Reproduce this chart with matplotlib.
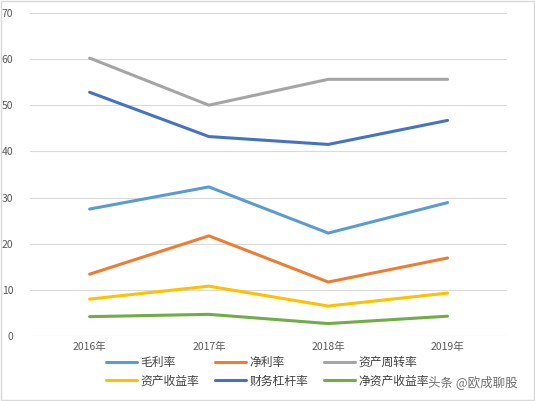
import matplotlib.pyplot as plt
from matplotlib.patches import Rectangle

plt.rcParams['font.family'] = ['Noto Sans CJK SC', 'DejaVu Sans']

# Data
years = ['2016年', '2017年', '2018年', '2019年']
gross_margin = [27.5, 32.3, 22.3, 28.9]       # 毛利率
net_margin = [13.4, 21.7, 11.7, 16.9]         # 净利率
asset_turnover = [60.2, 50.0, 55.6, 55.6]     # 资产周转率
roa = [8.0, 10.8, 6.5, 9.3]                   # 资产收益率
leverage = [52.8, 43.2, 41.5, 46.7]           # 财务杠杆率
roe = [4.2, 4.7, 2.7, 4.3]                    # 净资产收益率

series = [
    ('毛利率', gross_margin, '#5B9BD5'),
    ('净利率', net_margin, '#ED7D31'),
    ('资产周转率', asset_turnover, '#A5A5A5'),
    ('资产收益率', roa, '#FFC000'),
    ('财务杠杆率', leverage, '#4472C4'),
    ('净资产收益率', roe, '#70AD47'),
]

fig = plt.figure(figsize=(5.35, 4.01), dpi=100)
ax = fig.add_axes([0.056, 0.162, 0.892, 0.806])

x = range(len(years))
lines = {}
for name, vals, color in series:
    ln, = ax.plot(x, vals, color=color, lw=2.2, label=name, solid_capstyle='round')
    lines[name] = ln

ax.set_xlim(-0.5, 3.5)
ax.set_ylim(0, 70)
ax.set_yticks(range(0, 71, 10))
ax.set_xticks(list(x))
ax.set_xticklabels(years)
ax.grid(axis='y', color='#D9D9D9', lw=0.8)
ax.set_axisbelow(True)
for s in ax.spines.values():
    s.set_visible(False)
ax.tick_params(length=0, labelsize=7.5, colors='#595959', pad=4)
ax.tick_params(axis='y', pad=12)

# legend filled row by row
order = ['毛利率', '资产收益率', '净利率', '财务杠杆率', '资产周转率', '净资产收益率']
leg = fig.legend([lines[n] for n in order], order, ncol=3, loc='center left',
                 bbox_to_anchor=(0.199, 0.073), frameon=False, fontsize=8.5,
                 handlelength=2.6, handletextpad=0.3, columnspacing=1.35,
                 labelspacing=0.45, borderpad=0, borderaxespad=0)
for t in leg.get_texts():
    t.set_color('#404040')

# watermark
fig.text(0.968, 0.047, '头条 @欧成聊股', ha='right', va='center', fontsize=9,
         color='#555555', alpha=0.85)

fig.patches.append(Rectangle((0.002, 0.002), 0.996, 0.996, transform=fig.transFigure,
                             fill=False, edgecolor='#D9D9D9', lw=1))

fig.savefig('out.png', dpi=100)
